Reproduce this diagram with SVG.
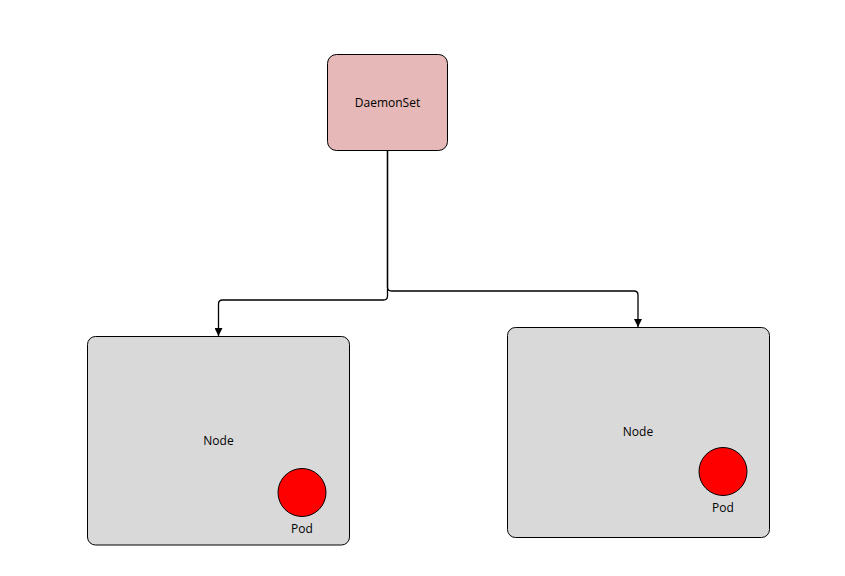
<svg xmlns="http://www.w3.org/2000/svg" width="845" height="576" viewBox="0 0 845 576">
<defs>
<style>
.lbl{font-family:"Open Sans","Noto Sans","DejaVu Sans",sans-serif;font-size:12px;fill:#000;text-anchor:middle;dominant-baseline:central}
.node{fill:#d9d9d9;stroke:#000;stroke-width:1}
.pod{fill:#ff0000;stroke:#000;stroke-width:1}
.conn{fill:none;stroke:#000;stroke-width:1.3}
</style>
<marker id="arr" viewBox="0 0 10 10" refX="10" refY="5" markerWidth="8" markerHeight="8" markerUnits="userSpaceOnUse" orient="auto">
<path d="M0,0 L10,5 L0,10 Z" fill="#000"/>
</marker>
</defs>
<rect width="845" height="576" fill="#fff"/>
<g id="connectors">
<path class="conn" d="M387.5,150.5 V296 Q387.5,300 383.5,300 H222.5 Q218.5,300 218.5,304 V336" marker-end="url(#arr)"/>
<path class="conn" d="M387.5,150.5 V287 Q387.5,291 391.5,291 H634 Q638,291 638,295 V327" marker-end="url(#arr)"/>
</g>
<g id="daemonset">
<rect x="327.5" y="54.5" width="120" height="96" rx="9" ry="9" fill="#e6b8b7" stroke="#000" stroke-width="1"/>
<text class="lbl" x="387.5" y="102">DaemonSet</text>
</g>
<g id="node1">
<rect class="node" x="87.5" y="336.5" width="262" height="208.5" rx="8" ry="8"/>
<text class="lbl" x="218.5" y="440">Node</text>
</g>
<g id="pod1">
<circle class="pod" cx="302" cy="492.5" r="24"/>
<text class="lbl" x="302" y="528">Pod</text>
</g>
<g id="node2">
<rect class="node" x="507.5" y="327.5" width="262" height="210" rx="8" ry="8"/>
<text class="lbl" x="638" y="431.5">Node</text>
</g>
<g id="pod2">
<circle class="pod" cx="723" cy="471.5" r="24"/>
<text class="lbl" x="723" y="507.5">Pod</text>
</g>
</svg>
